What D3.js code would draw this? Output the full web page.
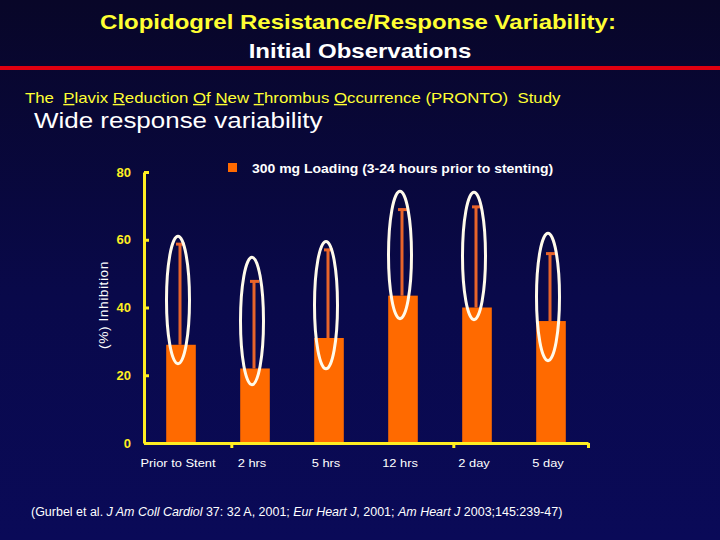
<!DOCTYPE html>
<html>
<head>
<meta charset="utf-8">
<script src="https://cdn.jsdelivr.net/npm/d3@7"></script>
<style>
  body { margin: 0; background: #080628; }
  svg text { font-family: "Liberation Sans", Arial, sans-serif; }
</style>
</head>
<body>
<div id="chart"></div>
<script>
// chart values
const categories = ["Prior to Stent", "2 hrs", "5 hrs", "12 hrs", "2 day", "5 day"];
const meanInhibition = [29, 22, 31, 43.5, 40, 36];
const upperInhibition = [59, 48, 57.3, 69.2, 70, 56.2];
const ringCenter = [42.2, 36, 40.7, 55.5, 55.2, 43.1];
const yTicks = [0, 20, 40, 60, 80];
const xTickMarks = [1.18, 4.18, 6];
const legendLabel = "300 mg Loading (3-24 hours prior to stenting)";

const W = 720, H = 540;
const plot = {left: 144, right: 588, top: 172, bottom: 443};

const svg = d3.select("#chart").append("svg")
    .attr("width", W)
    .attr("height", H);

// the slide text is a bit stretched sideways, so texts get a horizontal scale
function label(px, py, k, rot) {
    return svg.append("text")
        .attr("transform", `translate(${px},${py})` + (rot ? ` rotate(${rot})` : "") + ` scale(${k},1)`);
}

// dark navy background, lighter toward the bottom
const grad = svg.append("defs").append("linearGradient")
    .attr("id", "bg").attr("x1", 0).attr("y1", 0).attr("x2", 0).attr("y2", 1);
grad.append("stop").attr("offset", "0%").attr("stop-color", "#080628");
grad.append("stop").attr("offset", "55%").attr("stop-color", "#09094a");
grad.append("stop").attr("offset", "100%").attr("stop-color", "#0a0a58");
svg.append("rect").attr("width", W).attr("height", H).attr("fill", "url(#bg)");

// header
label(358, 29, 1.2)
    .attr("text-anchor", "middle")
    .attr("font-size", 20).attr("font-weight", "bold")
    .attr("fill", "#ffff33")
    .text("Clopidogrel Resistance/Response Variability:");
label(360, 58, 1.2)
    .attr("text-anchor", "middle")
    .attr("font-size", 20).attr("font-weight", "bold")
    .attr("fill", "#ffffff")
    .text("Initial Observations");
svg.append("rect")
    .attr("x", 0).attr("y", 66).attr("width", W).attr("height", 4)
    .attr("fill", "#e00010");

// study name, with initials underlined
const study = label(25, 103, 1.2)
    .attr("font-size", 14)
    .attr("fill", "#ffff33")
    .attr("xml:space", "preserve");
[["The  ", false], ["P", true], ["lavix ", false], ["R", true], ["eduction ", false],
 ["O", true], ["f ", false], ["N", true], ["ew ", false], ["T", true], ["hrombus ", false],
 ["O", true], ["ccurrence (PRONTO)  Study", false]].forEach(([t, u]) => {
    study.append("tspan").attr("text-decoration", u ? "underline" : null).text(t);
});

label(34, 128, 1.18)
    .attr("font-size", 22)
    .attr("fill", "#ffffff")
    .text("Wide response variability");

// scales
const x = d3.scaleBand()
    .domain(categories)
    .range([plot.left, plot.right])
    .paddingInner(0.6)
    .paddingOuter(0.3);
const xLin = d3.scaleLinear().domain([0, categories.length]).range([plot.left, plot.right]);
const y = d3.scaleLinear().domain([0, 80]).range([plot.bottom, plot.top]);

// bars
svg.append("g").selectAll("rect")
    .data(categories)
    .join("rect")
    .attr("x", d => x(d))
    .attr("y", (d, i) => y(meanInhibition[i]))
    .attr("width", x.bandwidth())
    .attr("height", (d, i) => y(0) - y(meanInhibition[i]))
    .attr("fill", "#ff6a00");

// upper error bars
const err = svg.append("g").attr("stroke", "#e8642a").attr("stroke-width", 3);
categories.forEach((c, i) => {
    const cx = x(c) + x.bandwidth() / 2 - 1;
    err.append("line")
        .attr("x1", cx).attr("x2", cx)
        .attr("y1", y(meanInhibition[i])).attr("y2", y(upperInhibition[i]));
    err.append("line")
        .attr("x1", cx - 4).attr("x2", cx + 5)
        .attr("y1", y(upperInhibition[i]) + 1).attr("y2", y(upperInhibition[i]) + 1);
});

// highlight rings
svg.append("g").selectAll("ellipse")
    .data(categories)
    .join("ellipse")
    .attr("cx", d => x(d) + x.bandwidth() / 2 - 3)
    .attr("cy", (d, i) => y(ringCenter[i]))
    .attr("rx", 11.5)
    .attr("ry", y(0) - y(18.8))
    .attr("fill", "none")
    .attr("stroke", "#fffaea")
    .attr("stroke-width", 3);

// y axis
const yAxis = svg.append("g")
    .attr("transform", `translate(${plot.left},0)`)
    .call(d3.axisLeft(y).tickValues(yTicks).tickSize(-5).tickSizeOuter(0).tickPadding(13));
yAxis.select(".domain").attr("stroke", "#ffee22").attr("stroke-width", 3);
yAxis.selectAll(".tick line").attr("stroke", "#ffee22").attr("stroke-width", 3);
yAxis.selectAll(".tick text")
    .attr("fill", "#ffee22")
    .attr("font-size", 13).attr("font-weight", "bold")
    .attr("font-family", "Liberation Sans, Arial, sans-serif");

// x axis line with its few tick marks
const xAxis = svg.append("g")
    .attr("transform", `translate(0,${plot.bottom})`)
    .call(d3.axisBottom(xLin).tickValues(xTickMarks).tickSize(5).tickSizeOuter(0).tickFormat(""));
xAxis.select(".domain").attr("stroke", "#ffee22").attr("stroke-width", 3);
xAxis.selectAll(".tick line").attr("stroke", "#ffee22").attr("stroke-width", 3);

// category labels
categories.forEach(c => {
    label(x(c) + x.bandwidth() / 2 - 3, 467, 1.12)
        .attr("text-anchor", "middle")
        .attr("font-size", 11.5)
        .attr("fill", "#ffffff")
        .text(c);
});

// y axis title
label(108, 305, 1.1, -90)
    .attr("text-anchor", "middle")
    .attr("font-size", 12.5)
    .attr("letter-spacing", 0.5)
    .attr("fill", "#ffffff")
    .text("(%) Inhibition");

// legend
svg.append("rect")
    .attr("x", 228).attr("y", 163).attr("width", 9).attr("height", 9)
    .attr("fill", "#ff6a00");
label(252, 173, 1.165)
    .attr("font-size", 12).attr("font-weight", "bold")
    .attr("fill", "#ffffff")
    .text(legendLabel);

// citation
const cite = label(31, 516, 1.04)
    .attr("font-size", 12)
    .attr("fill", "#ffffff");
[["(Gurbel et al. ", false], ["J Am Coll Cardiol", true], [" 37: 32 A, 2001; ", false],
 ["Eur Heart J", true], [", 2001; ", false], ["Am Heart J", true], [" 2003;145:239-47)", false]]
    .forEach(([t, it]) => {
        cite.append("tspan").attr("font-style", it ? "italic" : null).text(t);
    });
</script>
</body>
</html>
